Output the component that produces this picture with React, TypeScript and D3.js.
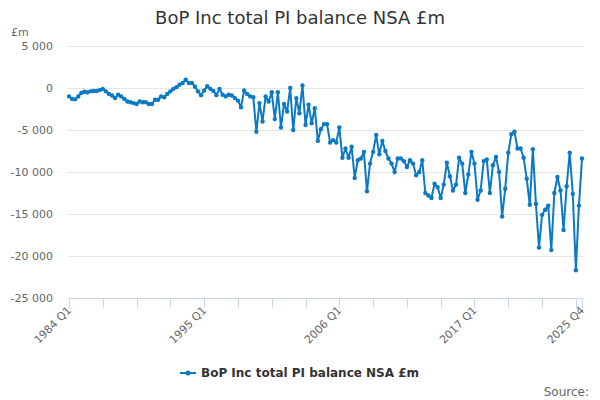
import React, { useEffect, useRef } from "react";
import * as d3 from "d3";

const title = "BoP Inc total PI balance NSA £m";
const seriesName = "BoP Inc total PI balance NSA £m";
const unitLabel = "£m";
const firstYear = 1984;
const lastYear = 2025;

// Quarterly values, 1984 Q1 .. 2025 Q4 (£m)
const values: number[] = [
  // 1984-1988
  -1000, -1300, -1350, -1000, -600, -450, -500, -400, -350, -350, -250, -100,
  -400, -700, -900, -1200, -800, -1000, -1300, -1600,
  // 1989-1993
  -1700, -1800, -1900, -1600, -1700, -1700, -1900, -1900, -1400, -1400,
  -1000, -1100, -700, -400, -100, 100, 400, 600, 1000, 600,
  // 1994-1998
  600, 150, -400, -850, -300, 200, -100, -350, -850, -100,
  -800, -1000, -800, -900, -1200, -1500, -2300, -300, -700, -1000,
  // 1999-2003
  -1100, -5200, -1800, -4000, -1000, -1600, -500, -3700, -500, -4700,
  -1900, -2800, 0, -5000, -1200, -3000, 300, -4400, -2000, -4200,
  // 2004-2008
  -2400, -6300, -4900, -4300, -4300, -6500, -6200, -6500, -4700, -8300,
  -7200, -8300, -7000, -10700, -8600, -8400, -7600, -12300, -9000, -7600,
  // 2009-2013
  -5600, -7900, -6300, -7500, -8400, -9000, -10000, -8400, -8400, -8700,
  -9400, -8600, -9000, -10400, -10000, -8600, -12500, -12800, -13100, -11400,
  // 2014-2018
  -11800, -13100, -11500, -8900, -10500, -12200, -11500, -8300, -9000, -12500,
  -10300, -7600, -9000, -13300, -12200, -8700, -8500, -12500, -9200, -8200,
  // 2019-2025
  -10000, -15300, -12000, -7700, -5500, -5200, -7200, -7200, -8300, -10800,
  -13900, -7300, -13800, -19000, -15100, -14500, -14000, -19300, -12500, -10600,
  -12200, -16900, -11700, -7700, -12600, -21700, -14000, -8400,
];

const categories: string[] = [];
for (let y = firstYear; y <= lastYear; y++) {
  for (let q = 1; q <= 4; q++) categories.push(`${y} Q${q}`);
}

const yTicks = [5000, 0, -5000, -10000, -15000, -20000, -25000];
const xLabelIdx = [0, 44, 88, 132, 167];

const fmt = (v: number) => {
  const s = Math.abs(v).toString().replace(/\B(?=(\d{3})+(?!\d))/g, "\u00a0");
  return (v < 0 ? "-" : "") + s;
};

export default function App() {
  const ref = useRef<SVGSVGElement>(null);
  useEffect(() => {
    const svg = d3.select(ref.current);
    svg.selectAll("*").remove();
    const W = 600, H = 400;
    const left = 69, right = 582, top = 46, bottom = 298;
    const font = "'DejaVu Sans', Verdana, sans-serif";
    const color = "#0b79c4";

    const x = d3.scaleLinear().domain([0, values.length - 1]).range([left, right]);
    const y = d3.scaleLinear().domain([-25000, 5000]).range([bottom, top]);

    svg.append("rect").attr("width", W).attr("height", H).attr("fill", "#fff");

    svg.append("text").attr("x", 300).attr("y", 24).attr("text-anchor", "middle")
      .attr("font-family", font).attr("font-size", 18).attr("fill", "#333").text(title);

    // grid
    svg.append("g").selectAll("line").data(yTicks.filter(t => t !== -25000)).join("line")
      .attr("x1", left - 1).attr("x2", right + 1)
      .attr("y1", d => y(d) + 0.5).attr("y2", d => y(d) + 0.5)
      .attr("stroke", "#e6e6e6").attr("stroke-width", 1);

    // y labels
    svg.append("g").selectAll("text").data(yTicks).join("text")
      .attr("x", 53).attr("y", d => y(d) + 4).attr("text-anchor", "end")
      .attr("font-family", font).attr("font-size", 11).attr("fill", "#666")
      .text(d => fmt(d));
    svg.append("text").attr("x", 11).attr("y", 36)
      .attr("font-family", font).attr("font-size", 11).attr("fill", "#666").text(unitLabel);

    // x axis
    svg.append("line").attr("x1", left - 1).attr("x2", right + 1)
      .attr("y1", bottom + 0.5).attr("y2", bottom + 0.5).attr("stroke", "#ccd6eb");
    const tickIdx: number[] = [];
    for (let i = 0; i < values.length; i += 11) tickIdx.push(i);
    tickIdx.push(values.length - 1);
    svg.append("g").selectAll("line").data(tickIdx).join("line")
      .attr("x1", d => Math.round(x(d)) + 0.5).attr("x2", d => Math.round(x(d)) + 0.5)
      .attr("y1", bottom).attr("y2", bottom + 10).attr("stroke", "#ccd6eb");
    svg.append("g").selectAll("text").data(xLabelIdx).join("text")
      .attr("transform", d => `translate(${x(d) + 3},${bottom + 13}) rotate(-45)`)
      .attr("text-anchor", "end")
      .attr("font-family", font).attr("font-size", 11).attr("fill", "#666")
      .text(d => categories[d]);

    // series
    const line = d3.line<number>().x((_, i) => x(i)).y(d => y(d));
    svg.append("path").datum(values).attr("d", line).attr("fill", "none")
      .attr("stroke", color).attr("stroke-width", 2).attr("stroke-linejoin", "round");
    svg.append("g").selectAll("circle").data(values).join("circle")
      .attr("cx", (_, i) => x(i)).attr("cy", d => y(d)).attr("r", 2.2).attr("fill", color);

    // legend
    const ly = 373;
    svg.append("line").attr("x1", 180).attr("x2", 196).attr("y1", ly).attr("y2", ly)
      .attr("stroke", color).attr("stroke-width", 2);
    svg.append("circle").attr("cx", 188).attr("cy", ly).attr("r", 2.5).attr("fill", color);
    svg.append("text").attr("x", 201).attr("y", ly + 4)
      .attr("font-family", font).attr("font-size", 12).attr("font-weight", "bold")
      .attr("fill", "#333").text(seriesName);

    svg.append("text").attr("x", 589).attr("y", 396).attr("text-anchor", "end")
      .attr("font-family", font).attr("font-size", 12).attr("fill", "#666").text("Source:");
  }, []);
  return (
    <svg ref={ref} width={600} height={400}
      style={{ position: "absolute", left: 0, top: 0, display: "block" }} />
  );
}
